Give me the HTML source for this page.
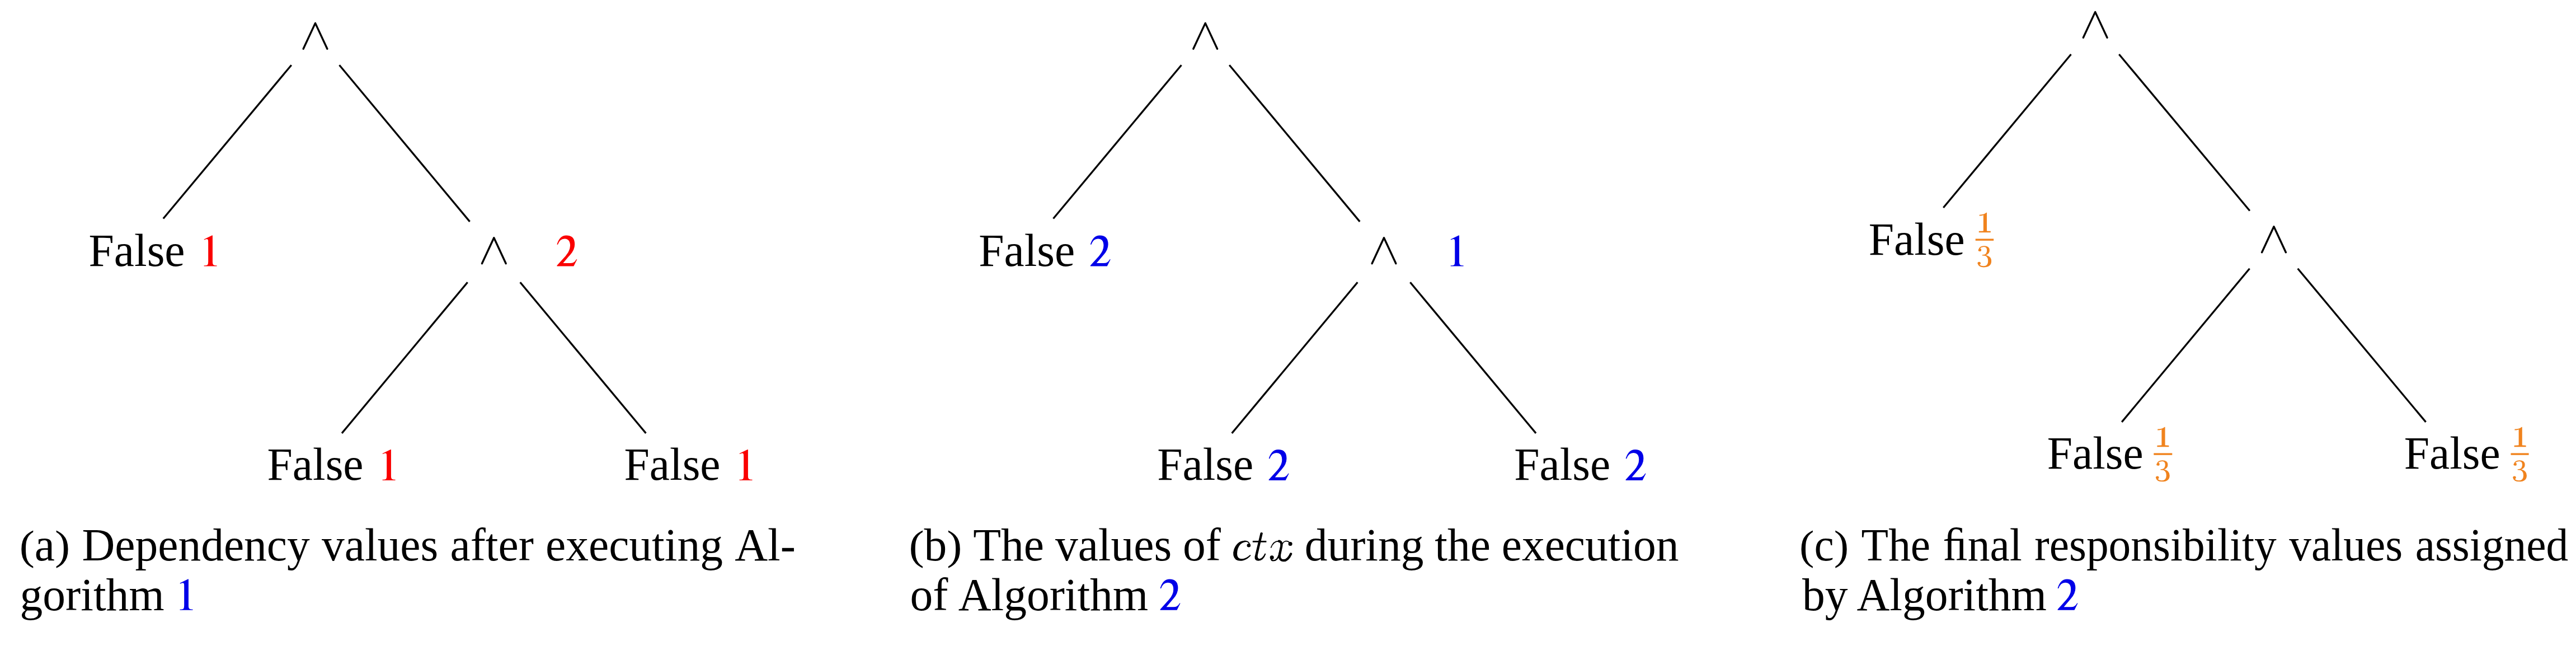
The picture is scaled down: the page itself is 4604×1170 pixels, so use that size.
<!DOCTYPE html>
<html><head><meta charset="utf-8">
<style>
html,body{margin:0;padding:0;background:#fff;}
body{width:4604px;height:1170px;position:relative;overflow:hidden;}
svg{position:absolute;left:0;top:0;z-index:2;}
svg text{font-family:"Liberation Serif", serif;}
.cap{position:absolute;font-family:"Liberation Serif", serif;font-size:81.5px;line-height:1;white-space:nowrap;color:#000;}
.j{display:flex;justify-content:space-between;}
.p{font-style:normal;display:inline-block;transform:scaleY(0.907);transform-origin:50% 48.3px;}
.m{display:inline-block;width:110px;height:10px;}
</style></head><body>
<div class="cap j" style="left:34.7px;width:1387.2px;top:933.2px;transform:scaleX(1.0);transform-origin:0 0"><span><i class="p">(</i>a<i class="p">)</i></span><span>Dependency</span><span>values</span><span>after</span><span>executing</span><span>Al-</span></div>
<div class="cap" style="left:35.6px;top:1021.9px;word-spacing:0px">gorithm</div>
<div class="cap j" style="left:1624.4px;width:1376.2px;top:933.2px;transform:scaleX(1.0);transform-origin:0 0"><span><i class="p">(</i>b<i class="p">)</i></span><span>The</span><span>values</span><span>of</span><span><span class="m"></span></span><span>during</span><span>the</span><span>execution</span></div>
<div class="cap" style="left:1626.4px;top:1021.9px;word-spacing:2.5px">of Algorithm</div>
<div class="cap j" style="left:3215.9px;width:1409.6px;top:933.2px;transform:scaleX(0.975);transform-origin:0 0"><span><i class="p">(</i>c<i class="p">)</i></span><span>The</span><span>&#xFB01;nal</span><span>responsibility</span><span>values</span><span>assigned</span></div>
<div class="cap" style="left:3221.0px;top:1021.9px;word-spacing:0px">by Algorithm</div>
<svg width="4604" height="1170" viewBox="0 0 4604 1170">
<polyline points="542.1,87.3 563.5,41.4 584.9,87.3" fill="none" stroke="#000" stroke-width="3.4" stroke-linecap="round" stroke-linejoin="round"/>
<line x1="520.8" y1="116.2" x2="291.8" y2="390.5" stroke="#000" stroke-width="3.3"/>
<line x1="606.5" y1="116.2" x2="839.6" y2="395.9" stroke="#000" stroke-width="3.3"/>
<text x="158.5" y="474.7" fill="#000" font-size="81.5">False</text>
<polyline points="861.4,470.7 882.8,424.8 904.2,470.7" fill="none" stroke="#000" stroke-width="3.4" stroke-linecap="round" stroke-linejoin="round"/>
<line x1="835.6" y1="504.3" x2="611.0" y2="773.9" stroke="#000" stroke-width="3.3"/>
<line x1="929.7" y1="504.3" x2="1154.4" y2="773.9" stroke="#000" stroke-width="3.3"/>
<text x="477.5" y="857.2" fill="#000" font-size="81.5">False</text>
<text x="1115.5" y="857.2" fill="#000" font-size="81.5">False</text>
<path transform="translate(355.55,475.50) scale(0.08150,-0.08150)" d="M111 0L392 0L392 14Q332 16 316 30Q299 46 299 100L299 676L287 676L111 590L115 576Q150 592 175 594Q196 594 201 572Q204 555 204 510L204 100Q204 46 190 30Q174 16 111 14Z" fill="#fa0000"/>
<path transform="translate(992.95,475.50) scale(0.08150,-0.08150)" d="M30 0L397 0L472 150L456 150Q430 100 390 80Q370 67 320 67L165 67L320 250Q420 360 420 480Q420 676 235 676Q90 676 30 478L48 472Q95 600 195 600Q320 600 320 450Q320 340 220 225L30 14Z" fill="#fa0000"/>
<path transform="translate(674.55,858.00) scale(0.08150,-0.08150)" d="M111 0L392 0L392 14Q332 16 316 30Q299 46 299 100L299 676L287 676L111 590L115 576Q150 592 175 594Q196 594 201 572Q204 555 204 510L204 100Q204 46 190 30Q174 16 111 14Z" fill="#fa0000"/>
<path transform="translate(1312.55,858.00) scale(0.08150,-0.08150)" d="M111 0L392 0L392 14Q332 16 316 30Q299 46 299 100L299 676L287 676L111 590L115 576Q150 592 175 594Q196 594 201 572Q204 555 204 510L204 100Q204 46 190 30Q174 16 111 14Z" fill="#fa0000"/>
<polyline points="2132.8,87.3 2154.2,41.4 2175.6,87.3" fill="none" stroke="#000" stroke-width="3.4" stroke-linecap="round" stroke-linejoin="round"/>
<line x1="2111.5" y1="116.2" x2="1882.5" y2="390.5" stroke="#000" stroke-width="3.3"/>
<line x1="2197.2" y1="116.2" x2="2430.3" y2="395.9" stroke="#000" stroke-width="3.3"/>
<text x="1749.2" y="474.7" fill="#000" font-size="81.5">False</text>
<polyline points="2452.1,470.7 2473.5,424.8 2494.9,470.7" fill="none" stroke="#000" stroke-width="3.4" stroke-linecap="round" stroke-linejoin="round"/>
<line x1="2426.3" y1="504.3" x2="2201.7" y2="773.9" stroke="#000" stroke-width="3.3"/>
<line x1="2520.4" y1="504.3" x2="2745.1" y2="773.9" stroke="#000" stroke-width="3.3"/>
<text x="2068.2" y="857.2" fill="#000" font-size="81.5">False</text>
<text x="2706.2" y="857.2" fill="#000" font-size="81.5">False</text>
<path transform="translate(1946.36,475.50) scale(0.08150,-0.08150)" d="M30 0L397 0L472 150L456 150Q430 100 390 80Q370 67 320 67L165 67L320 250Q420 360 420 480Q420 676 235 676Q90 676 30 478L48 472Q95 600 195 600Q320 600 320 450Q320 340 220 225L30 14Z" fill="#0000e8"/>
<path transform="translate(2583.65,475.50) scale(0.08150,-0.08150)" d="M111 0L392 0L392 14Q332 16 316 30Q299 46 299 100L299 676L287 676L111 590L115 576Q150 592 175 594Q196 594 201 572Q204 555 204 510L204 100Q204 46 190 30Q174 16 111 14Z" fill="#0000e8"/>
<path transform="translate(2265.25,858.00) scale(0.08150,-0.08150)" d="M30 0L397 0L472 150L456 150Q430 100 390 80Q370 67 320 67L165 67L320 250Q420 360 420 480Q420 676 235 676Q90 676 30 478L48 472Q95 600 195 600Q320 600 320 450Q320 340 220 225L30 14Z" fill="#0000e8"/>
<path transform="translate(2903.16,858.00) scale(0.08150,-0.08150)" d="M30 0L397 0L472 150L456 150Q430 100 390 80Q370 67 320 67L165 67L320 250Q420 360 420 480Q420 676 235 676Q90 676 30 478L48 472Q95 600 195 600Q320 600 320 450Q320 340 220 225L30 14Z" fill="#0000e8"/>
<polyline points="3723.3,67.3 3744.7,21.4 3766.1,67.3" fill="none" stroke="#000" stroke-width="3.4" stroke-linecap="round" stroke-linejoin="round"/>
<line x1="3701.5" y1="97.0" x2="3473.3" y2="371.0" stroke="#000" stroke-width="3.3"/>
<line x1="3787.3" y1="97.0" x2="4020.9" y2="376.5" stroke="#000" stroke-width="3.3"/>
<text x="3339.7" y="454.7" fill="#000" font-size="81.5">False</text>
<polyline points="4042.6,450.7 4064.0,404.8 4085.4,450.7" fill="none" stroke="#000" stroke-width="3.4" stroke-linecap="round" stroke-linejoin="round"/>
<line x1="4020.6" y1="479.7" x2="3792.2" y2="753.9" stroke="#000" stroke-width="3.3"/>
<line x1="4106.7" y1="479.7" x2="4335.6" y2="753.9" stroke="#000" stroke-width="3.3"/>
<text x="3658.7" y="837.2" fill="#000" font-size="81.5">False</text>
<text x="4296.7" y="837.2" fill="#000" font-size="81.5">False</text>
<rect x="3530.7" y="426.5" width="32.5" height="3.4" fill="#f0831e"/><path transform="translate(3536.80,415.30) scale(0.05500,-0.05500)" d="M0 0L382 0L382 45Q300 45 258 52L258 646L240 646Q180 580 15 575L15 540Q100 540 146 565L146 52Q104 45 0 45Z" fill="#f0831e"/><path transform="translate(3532.34,476.15) scale(0.05885,-0.05665)" d="M55 520Q90 651 235 651Q400 651 400 510Q400 400 290 362Q455 320 455 175Q455 -22 225 -22Q70 -22 35 100Q35 150 85 150Q130 150 130 105Q130 70 95 60Q140 15 220 15Q355 15 355 175Q355 345 210 345L180 345L180 372L210 372Q320 380 320 510Q320 620 230 620Q150 620 110 575Q150 570 150 525Q150 480 105 480Q55 480 55 520Z" fill="#f0831e"/>
<rect x="3849.3" y="809.4" width="33.0" height="3.4" fill="#f0831e"/><path transform="translate(3855.40,798.20) scale(0.05500,-0.05500)" d="M0 0L382 0L382 45Q300 45 258 52L258 646L240 646Q180 580 15 575L15 540Q100 540 146 565L146 52Q104 45 0 45Z" fill="#f0831e"/><path transform="translate(3850.94,859.05) scale(0.05885,-0.05665)" d="M55 520Q90 651 235 651Q400 651 400 510Q400 400 290 362Q455 320 455 175Q455 -22 225 -22Q70 -22 35 100Q35 150 85 150Q130 150 130 105Q130 70 95 60Q140 15 220 15Q355 15 355 175Q355 345 210 345L180 345L180 372L210 372Q320 380 320 510Q320 620 230 620Q150 620 110 575Q150 570 150 525Q150 480 105 480Q55 480 55 520Z" fill="#f0831e"/>
<rect x="4487.5" y="809.4" width="32.1" height="3.4" fill="#f0831e"/><path transform="translate(4493.60,798.20) scale(0.05500,-0.05500)" d="M0 0L382 0L382 45Q300 45 258 52L258 646L240 646Q180 580 15 575L15 540Q100 540 146 565L146 52Q104 45 0 45Z" fill="#f0831e"/><path transform="translate(4489.14,859.05) scale(0.05885,-0.05665)" d="M55 520Q90 651 235 651Q400 651 400 510Q400 400 290 362Q455 320 455 175Q455 -22 225 -22Q70 -22 35 100Q35 150 85 150Q130 150 130 105Q130 70 95 60Q140 15 220 15Q355 15 355 175Q355 345 210 345L180 345L180 372L210 372Q320 380 320 510Q320 620 230 620Q150 620 110 575Q150 570 150 525Q150 480 105 480Q55 480 55 520Z" fill="#f0831e"/>
<g transform="translate(2195,940) scale(0.106838)">
<path d="M370 300Q340 235 270 240Q150 250 100 380Q60 500 130 560Q180 590 260 570Q330 550 380 490L368 478Q300 545 230 545Q150 545 150 460Q150 370 200 310Q240 265 300 262Q330 262 345 290Z"/>
<circle cx="345" cy="320" r="31"/>
<path d="M540 110Q560 95 580 115L495 480Q485 530 520 545Q570 545 615 455L632 462Q590 580 505 578Q440 575 445 510Z"/>
<rect x="410" y="243" width="230" height="26"/>
<g fill="none" stroke="#000" stroke-linecap="round">
<path d="M718 355Q760 245 850 250" stroke-width="16"/>
<path d="M850 250Q905 260 890 340L862 470Q848 570 930 573Q1000 573 1050 462" stroke-width="40"/>
<path d="M1040 290Q1010 240 960 250Q915 262 895 320" stroke-width="16"/>
<path d="M895 320L850 480Q820 578 750 575Q725 572 720 545" stroke-width="22"/>
</g>
<circle cx="1040" cy="295" r="33"/>
<circle cx="732" cy="522" r="33"/>
</g>
<path transform="translate(312.55,1089.70) scale(0.08150,-0.08150)" d="M111 0L392 0L392 14Q332 16 316 30Q299 46 299 100L299 676L287 676L111 590L115 576Q150 592 175 594Q196 594 201 572Q204 555 204 510L204 100Q204 46 190 30Q174 16 111 14Z" fill="#0000e8"/>
<path transform="translate(2071.15,1089.70) scale(0.08150,-0.08150)" d="M30 0L397 0L472 150L456 150Q430 100 390 80Q370 67 320 67L165 67L320 250Q420 360 420 480Q420 676 235 676Q90 676 30 478L48 472Q95 600 195 600Q320 600 320 450Q320 340 220 225L30 14Z" fill="#0000e8"/>
<path transform="translate(3675.15,1089.70) scale(0.08150,-0.08150)" d="M30 0L397 0L472 150L456 150Q430 100 390 80Q370 67 320 67L165 67L320 250Q420 360 420 480Q420 676 235 676Q90 676 30 478L48 472Q95 600 195 600Q320 600 320 450Q320 340 220 225L30 14Z" fill="#0000e8"/>
</svg>
</body></html>
